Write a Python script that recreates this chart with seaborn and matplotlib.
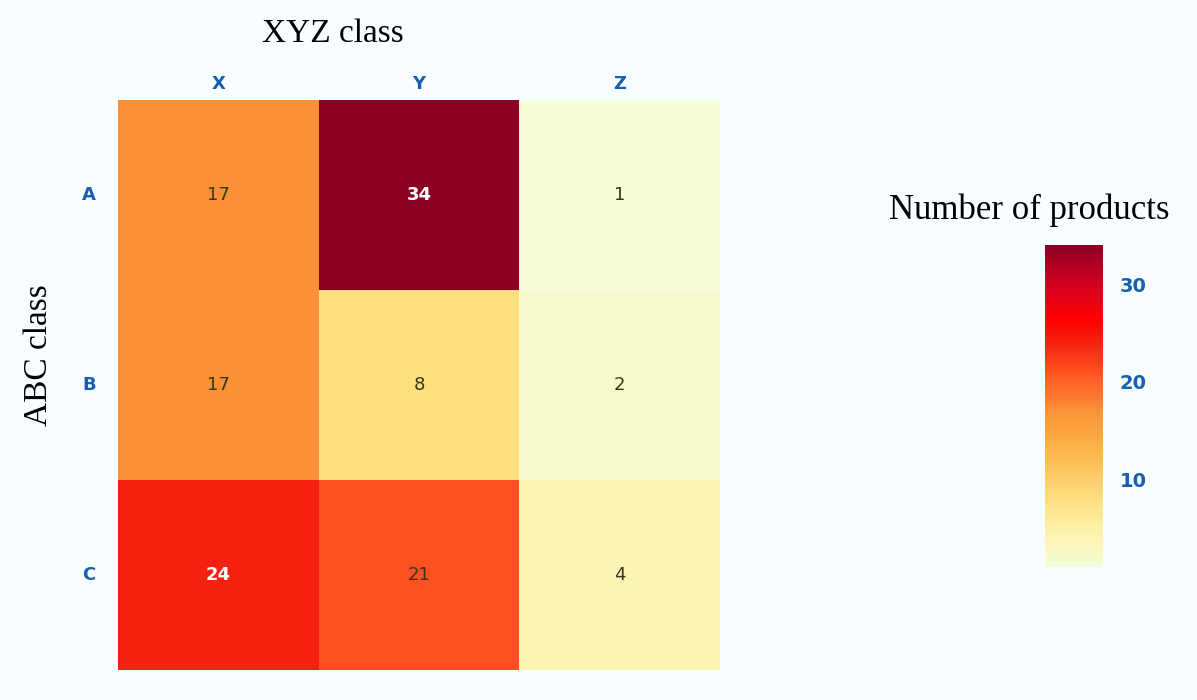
import numpy as np
import pandas as pd
import matplotlib.pyplot as plt
import seaborn as sns
from matplotlib.colors import LinearSegmentedColormap

xyz_classes = ['X', 'Y', 'Z']
abc_classes = ['A', 'B', 'C']
counts_a = [17, 34, 1]
counts_b = [17, 8, 2]
counts_c = [24, 21, 4]

data = pd.DataFrame([counts_a, counts_b, counts_c], index=abc_classes, columns=xyz_classes)

bg = '#f8fdff'
blue = '#1560b0'
cmap = LinearSegmentedColormap.from_list('ylorred', [
    (0.0, '#f6fdd8'), (0.1, '#fdf3b0'), (0.21, '#fddf80'), (0.35, '#fdb84c'),
    (0.48, '#fb9438'), (0.6, '#ff5522'), (0.7, '#f52010'), (0.77, '#ff0000'),
    (0.88, '#d00020'), (1.0, '#8c0024')])

fig = plt.figure(figsize=(11.97, 7), dpi=100, facecolor=bg)
ax = fig.add_axes([0.0986, 0.0429, 0.503, 0.814])
cax = fig.add_axes([0.873, 0.19, 0.0485, 0.46])

sns.heatmap(data, ax=ax, cbar_ax=cax, cmap=cmap, vmin=1, vmax=34,
            annot=True, fmt='d', annot_kws={'fontsize': 13, 'color': '#3a3418'})

for t in ax.texts:
    if int(t.get_text()) >= 24:
        t.set_color('white')
        t.set_fontweight('bold')

ax.xaxis.tick_top()
ax.tick_params(axis='x', length=0, pad=5)
ax.tick_params(axis='y', length=0, pad=16)
ax.set_xticklabels(xyz_classes, color=blue, fontsize=13, fontweight='bold')
ax.set_yticklabels(abc_classes, color=blue, fontsize=13, fontweight='bold', rotation=0)
ax.set_xlabel('')
ax.set_ylabel('')

fig.text(0.278, 0.952, 'XYZ class', ha='center', va='center',
         fontsize=24, family='Liberation Serif')
fig.text(0.032, 0.493, 'ABC class', ha='center', va='center', rotation=90,
         fontsize=24, family='Liberation Serif')
fig.text(0.860, 0.70, 'Number of products', ha='center', va='center',
         fontsize=25, family='Liberation Serif')

cax.set_yticks([10, 20, 30])
cax.tick_params(length=0, pad=12, labelsize=14, labelcolor=blue)
for lbl in cax.get_yticklabels():
    lbl.set_fontweight('bold')
for s in cax.spines.values():
    s.set_visible(False)

fig.savefig('out.png', dpi=100, facecolor=bg)
